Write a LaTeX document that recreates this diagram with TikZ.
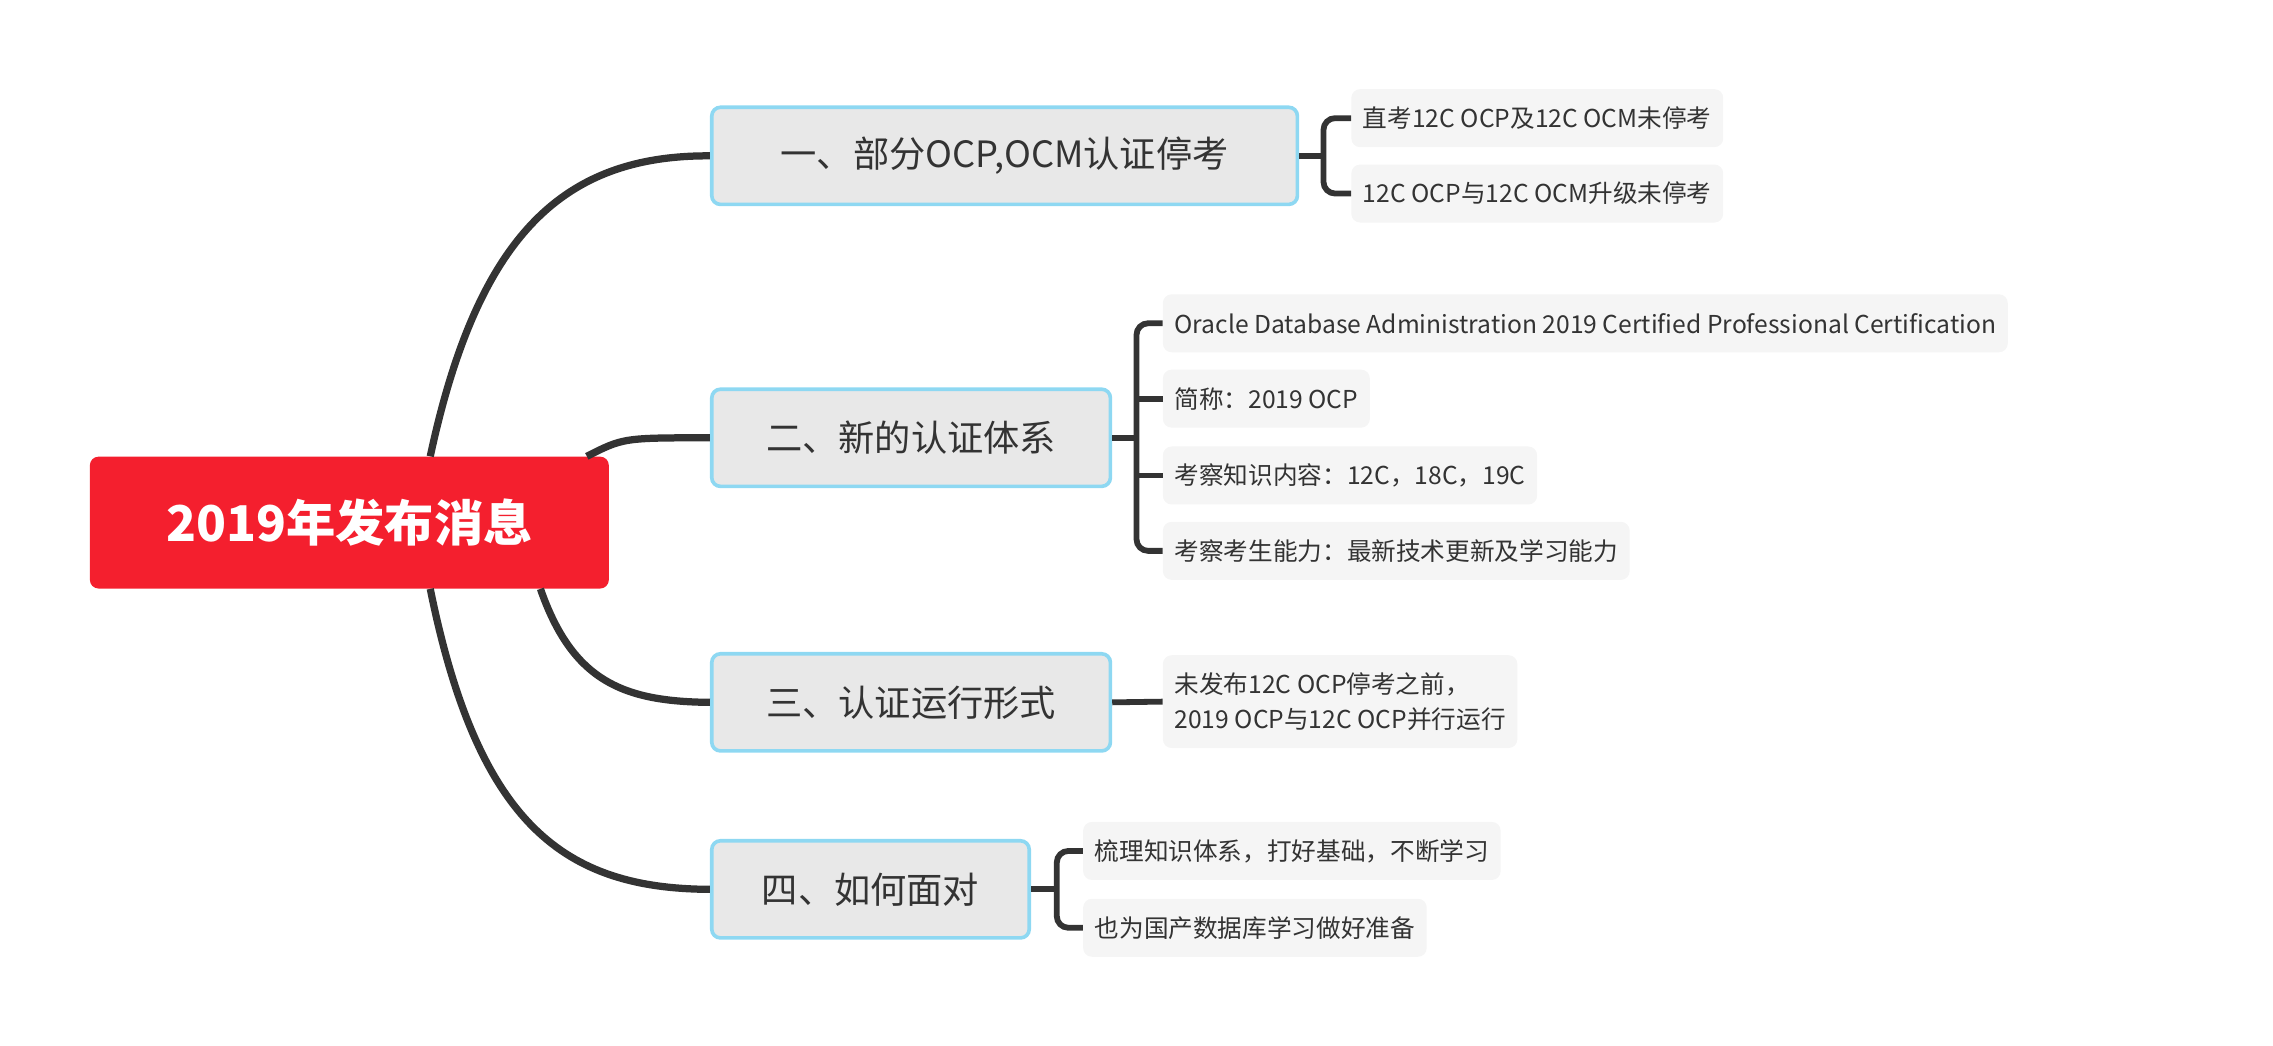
\documentclass[tikz,border=0pt]{standalone}
\usepackage{fontspec}
\setmainfont{Noto Sans CJK SC}
\usetikzlibrary{calc}
\definecolor{rootred}{HTML}{F41F2E}
\definecolor{brfill}{HTML}{E8E8E8}
\definecolor{brline}{HTML}{8ED8F2}
\definecolor{leaffill}{HTML}{F5F5F5}
\definecolor{conn}{HTML}{333333}
\tikzset{
 rootbox/.style={fill=rootred,rounded corners=6pt,minimum width=358pt,minimum height=91pt,text=white,font=\fontsize{34}{40}\selectfont\bfseries},
 brbox/.style={fill=brfill,draw=brline,line width=2.5pt,rounded corners=6pt,minimum height=67pt,font=\fontsize{25}{30}\selectfont,text=conn},
 leafbox/.style={fill=leaffill,rounded corners=6pt,minimum height=40pt,anchor=west,inner xsep=8pt,font=\fontsize{17}{24}\selectfont,text=conn,align=left},
 link/.style={draw=conn,line width=5pt},
 brk/.style={draw=conn,line width=4pt,rounded corners=8pt}
}
\begin{document}
\begin{tikzpicture}[x=1pt,y=-1pt]
\useasboundingbox (0,0) rectangle (1568,721);
\node[rootbox] (root) at (241,360.5) {2019年发布消息};
\node[brbox,minimum width=404pt] (b1) at (693,107.5) {一、部分OCP,OCM认证停考};
\node[brbox,minimum width=275pt] (b2) at (628.5,302) {二、新的认证体系};
\node[brbox,minimum width=275pt] (b3) at (628.5,484.5) {三、认证运行形式};
\node[brbox,minimum width=219pt] (b4) at (600.5,613.5) {四、如何面对};
\node[leafbox] (l11) at (932,81.5) {直考12C OCP及12C OCM未停考};
\node[leafbox] (l12) at (932,133.5) {12C OCP与12C OCM升级未停考};
\node[leafbox] (l21) at (802,223) {Oracle Database Administration 2019 Certified Professional Certification};
\node[leafbox] (l22) at (802,275) {简称：2019 OCP};
\node[leafbox] (l23) at (802,328) {考察知识内容：12C，18C，19C};
\node[leafbox] (l24) at (802,380) {考察考生能力：最新技术更新及学习能力};
\node[leafbox,minimum height=64pt] (l31) at (802,484) {未发布12C OCP停考之前，\\2019 OCP与12C OCP并行运行};
\node[leafbox] (l41) at (747,587) {梳理知识体系，打好基础，不断学习};
\node[leafbox] (l42) at (747,640) {也为国产数据库学习做好准备};
% root links
\draw[link] ($(root.north west)+(235,0)$) .. controls (330,160) and (390,107) .. (b1.west);
\draw[link] ($(root.north west)+(343,0)$) .. controls (430,302) .. (b2.west);
\draw[link] ($(root.south west)+(311,0)$) .. controls (395,470) and (430,484) .. (b3.west);
\draw[link] ($(root.south west)+(235,0)$) .. controls (330,570) and (390,613) .. (b4.west);
% brackets
\draw[brk] (b1.east) -- (913,107.5);
\draw[brk] (l11.west) -- (913,81.5) -- (913,133.5) -- (l12.west);
\draw[brk] (b2.east) -- (784,302);
\draw[brk] (l21.west) -- (784,223) -- (784,380) -- (l24.west);
\draw[brk] (784,275) -- (l22.west);
\draw[brk] (784,328) -- (l23.west);
\draw[brk] (b3.east) -- (l31.west);
\draw[brk] (b4.east) -- (729,613.5);
\draw[brk] (l41.west) -- (729,587) -- (729,640) -- (l42.west);
\end{tikzpicture}
\end{document}
